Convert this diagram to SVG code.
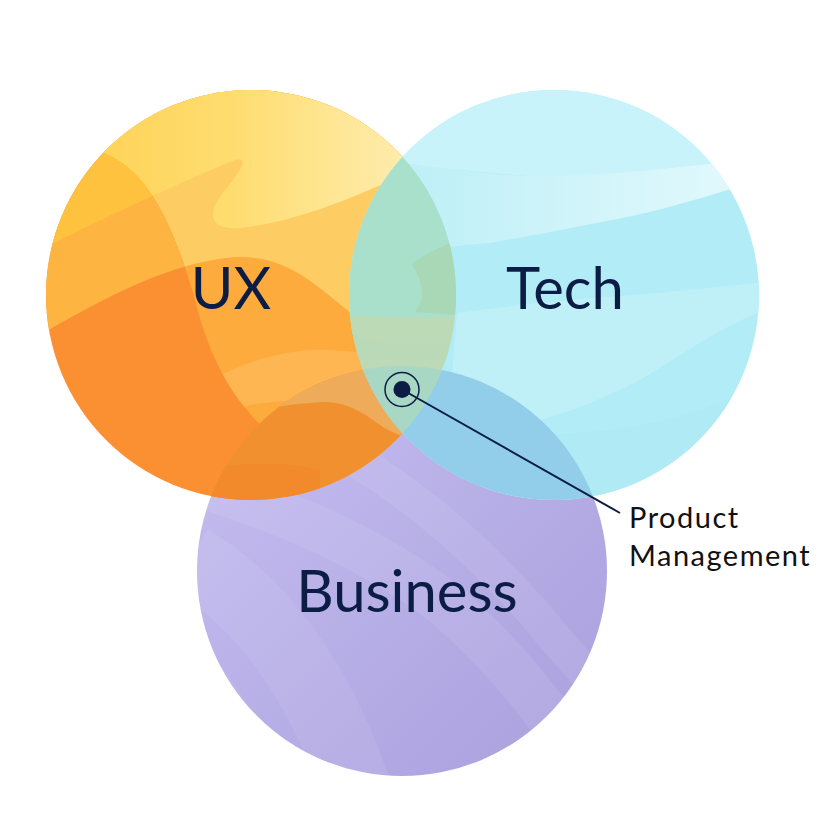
<svg xmlns="http://www.w3.org/2000/svg" width="825" height="825" viewBox="0 0 825 825">
<style>
.lbl{font-family:Lato,"Noto Sans","DejaVu Sans",sans-serif;fill:#0B1D45;font-size:58px;text-anchor:middle}
.pm{font-family:Lato,"Noto Sans","DejaVu Sans",sans-serif;fill:#111111;font-size:29px;letter-spacing:1.5px}
</style>
<defs>
<clipPath id="cUX"><circle cx="251" cy="295" r="205"/></clipPath>
<clipPath id="cTech"><circle cx="554" cy="295" r="205"/></clipPath>
<clipPath id="cBiz"><circle cx="402" cy="571" r="205"/></clipPath>
<clipPath id="cLeftV"><path d="M103,153 C150,170 175,230 195,300 C210,360 235,410 290,450 L290,520 L20,520 L20,60 L103,60 Z"/></clipPath>
<clipPath id="cRightV"><path d="M103,153 C150,170 175,230 195,300 C210,360 235,410 290,450 L290,520 L480,520 L480,60 L103,60 Z"/></clipPath>
<linearGradient id="gTop" x1="0" y1="0" x2="1" y2="0" gradientUnits="objectBoundingBox">
<stop offset="0" stop-color="#FECF4E"/><stop offset="0.45" stop-color="#FEDD70"/><stop offset="1" stop-color="#FEF2C4"/>
</linearGradient>
<linearGradient id="gTechBand" x1="0" y1="0" x2="1" y2="0">
<stop offset="0" stop-color="#BDEFF7"/><stop offset="1" stop-color="#E6FAFD"/>
</linearGradient>
<linearGradient id="gBiz" x1="0" y1="0" x2="1" y2="1">
<stop offset="0" stop-color="#C6BFF1"/><stop offset="1" stop-color="#A99FDD"/>
</linearGradient>
</defs>

<g id="business">
<circle cx="402" cy="571" r="205" fill="url(#gBiz)"/>
<g clip-path="url(#cBiz)" fill="none" stroke="#FFFFFF">
<path d="M150,470 C260,500 360,540 440,600 C500,650 560,720 600,800" stroke-width="46" stroke-opacity="0.08"/>
<path d="M280,420 C390,470 470,540 540,620 C580,670 610,700 640,720" stroke-width="34" stroke-opacity="0.08"/>
<path d="M190,560 C260,600 320,680 360,800" stroke-width="70" stroke-opacity="0.07"/>
<path d="M150,620 C200,660 240,720 270,800" stroke-width="40" stroke-opacity="0.06"/>
</g>
<text class="lbl" x="407" y="612">Business</text>
</g>

<g id="ux">
<circle cx="251" cy="295" r="205" fill="#FB9033"/>
<g clip-path="url(#cUX)">
<g clip-path="url(#cRightV)">
<rect x="40" y="80" width="440" height="440" fill="#FDAB3C"/>
<path d="M210,380 C250,360 290,348 330,350 C370,352 400,360 470,370 L470,425 C430,420 400,415 370,412 C330,400 290,398 250,405 C235,410 225,415 210,415 Z" fill="#FDB652"/>
<path d="M40,335 C100,300 170,262 235,257 C290,255 320,290 350,312 L470,318 L470,60 L40,60 Z" fill="#FDCD64"/>
<path d="M40,250 C110,215 185,180 235,160 C250,157 240,172 225,190 C205,215 210,230 240,228 C300,222 380,190 470,140 L470,60 L40,60 Z" fill="url(#gTop)"/>
</g>
<g clip-path="url(#cLeftV)">
<path d="M40,335 C100,300 170,262 235,257 C290,255 320,290 350,312 L470,318 L470,60 L40,60 Z" fill="#FDB440"/>
<path d="M40,250 C110,215 185,180 235,160 L240,60 L40,60 Z" fill="#FEC23F"/>
</g>
<g clip-path="url(#cBiz)">
<rect x="40" y="340" width="440" height="200" fill="#F1902F"/>
<path d="M200,430 C230,415 270,405 323,402 C345,402 360,410 380,425 C395,435 420,445 470,450 L470,340 L200,340 Z" fill="#EEAB5A"/>
<path d="M150,480 C200,470 260,455 320,470 L320,520 L150,520 Z" fill="#F2882C" opacity="0.8"/>
</g>
</g>
<text class="lbl" x="231" y="309">UX</text>
</g>

<g id="tech">
<circle cx="554" cy="295" r="205" fill="#B2ECF6"/>
<g clip-path="url(#cTech)">
<path d="M340,80 L780,80 L780,165 C700,168 620,180 540,177 C470,172 420,165 340,160 Z" fill="#C9F3FA"/>
<path d="M403,163 C470,172 520,178 560,176 C620,174 680,168 740,160 L780,175 C760,180 740,186 727,190 C680,205 640,215 607,221 C560,230 520,238 490,243 C460,246 430,248 400,250 Z" fill="url(#gTechBand)"/>
<path d="M457,313 C510,306 560,300 607,297 C660,293 710,288 780,280 L780,305 C730,320 690,350 640,380 C600,400 570,412 540,420 C510,420 480,410 450,400 Z" fill="#BFF0F8"/>
<path d="M480,430 C560,440 640,430 700,410 L780,380 L780,520 L480,520 Z" fill="#B0EBF5"/>
</g>
<g clip-path="url(#cTech)"><g clip-path="url(#cBiz)">
<rect x="340" y="340" width="440" height="200" fill="#92CEEA"/>
<path d="M340,360 C420,360 520,380 600,440 L600,340 L340,340 Z" fill="#9DD3EE"/>
</g></g>
<g clip-path="url(#cTech)"><g clip-path="url(#cUX)">
<rect x="340" y="140" width="130" height="320" fill="#A9E0CB"/>
<path d="M470,235 C445,245 420,255 412,265 C425,285 425,300 415,312 L470,316 Z" fill="#A8D8B6"/>
<path d="M340,315 C380,318 430,318 470,316 L470,370 L340,370 Z" fill="#BDDAB7"/>
<path d="M340,330 C380,345 420,350 470,340 L470,360 L340,360 Z" fill="#B6D8B8" opacity="0.6"/>
</g></g>
<g clip-path="url(#cTech)"><g clip-path="url(#cUX)"><g clip-path="url(#cBiz)">
<rect x="340" y="340" width="130" height="120" fill="#A8D7C3"/>
</g></g></g>
<text class="lbl" x="565" y="309">Tech</text>
</g>

<g id="connectors">
<line x1="402" y1="389.5" x2="620" y2="513" stroke="#0B1D45" stroke-width="2"/>
</g>

<g id="product-management">
<circle cx="402" cy="389.5" r="17" fill="none" stroke="#0B1D45" stroke-width="1.5"/>
<circle cx="402" cy="389.5" r="8.5" fill="#0B1D45"/>
<text class="pm" x="629" y="528">Product</text>
<text class="pm" x="629" y="566">Management</text>
</g>
</svg>
